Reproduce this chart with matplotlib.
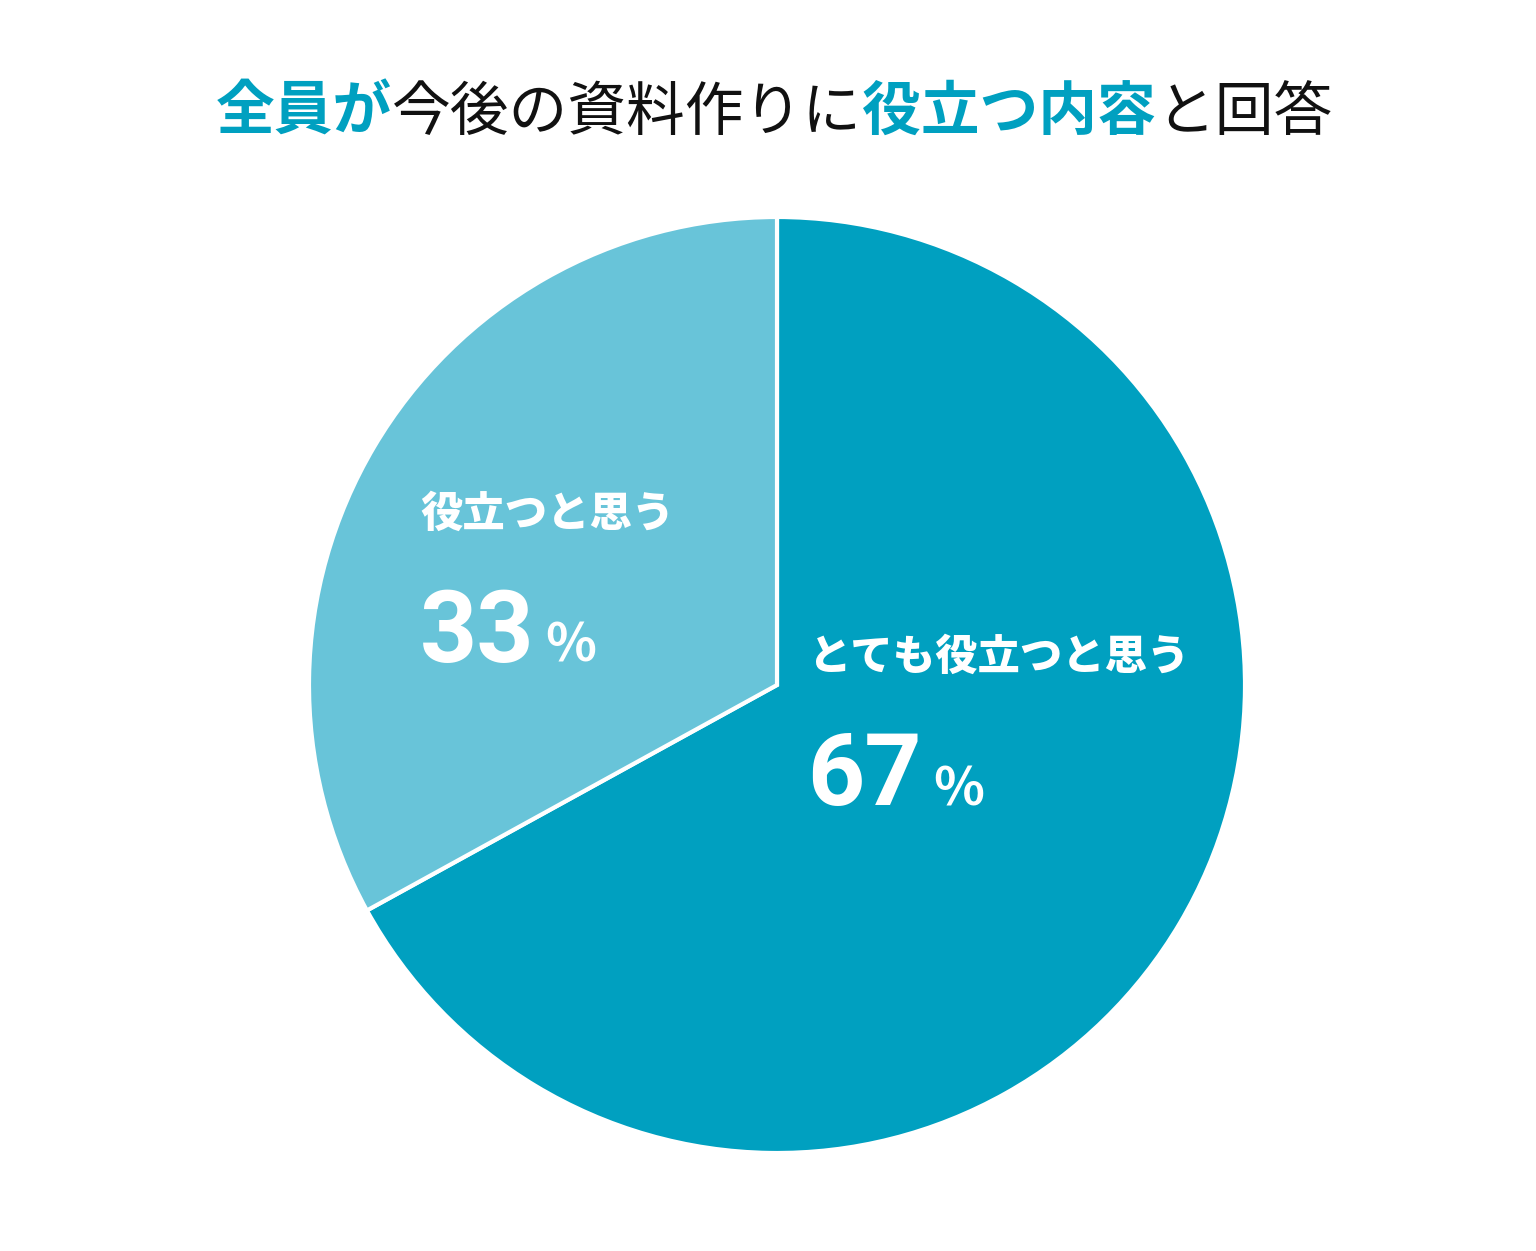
import matplotlib
matplotlib.use("Agg")
import matplotlib.pyplot as plt

plt.rcParams['font.family'] = ['Noto Sans CJK JP', 'DejaVu Sans']

# data
labels = ['とても役立つと思う', '役立つと思う']
values = [67, 33]
colors = ['#00A0C0', '#68C4D9']
title_parts = [('全員が', '#00A0C0', 'bold'),
               ('今後の資料作りに', '#111111', 'normal'),
               ('役立つ内容', '#00A0C0', 'bold'),
               ('と回答', '#111111', 'normal')]

W, H = 1536, 1251
fig = plt.figure(figsize=(W / 100, H / 100), dpi=100)


def fx(x):
    return x / W


def fy(y):
    return 1 - y / H


# pie
cx, cy, r = 777, 685, 468
ax = fig.add_axes([fx(cx - r), fy(cy + r), 2 * r / W, 2 * r / H])
ax.pie(values, colors=colors, startangle=90, counterclock=False,
       wedgeprops=dict(edgecolor='white', linewidth=3))
ax.set_xlim(-1, 1)
ax.set_ylim(-1, 1)
ax.set_aspect('auto')
ax.axis('off')

# title, assembled piece by piece
renderer = fig.canvas.get_renderer()
texts = []
for s, c, w in title_parts:
    t = fig.text(0, fy(130), s, color=c, fontsize=42.3, fontweight=w,
                 va='baseline', ha='left')
    texts.append(t)
widths = [t.get_window_extent(renderer).width for t in texts]
x = 774 - sum(widths) / 2
for t, wd in zip(texts, widths):
    t.set_x(fx(x))
    x += wd


def slice_label(name, val, lx, ly, nx, ny, px):
    fig.text(fx(lx), fy(ly), name, color='white', fontsize=30.5,
             fontweight='black', va='center', ha='left')
    fig.text(fx(nx), fy(ny), str(val), color='white', fontsize=72,
             fontweight='bold', va='baseline', ha='left',
             family=['Roboto', 'Noto Sans CJK JP'])
    fig.text(fx(px), fy(ny), '%', color='white', fontsize=38,
             fontweight='bold', va='baseline', ha='left')


slice_label(labels[1], values[1], 420, 514, 420, 662, 545)
slice_label(labels[0], values[0], 808, 657, 807, 805, 933)

fig.savefig('out.png', dpi=100, facecolor='white')
